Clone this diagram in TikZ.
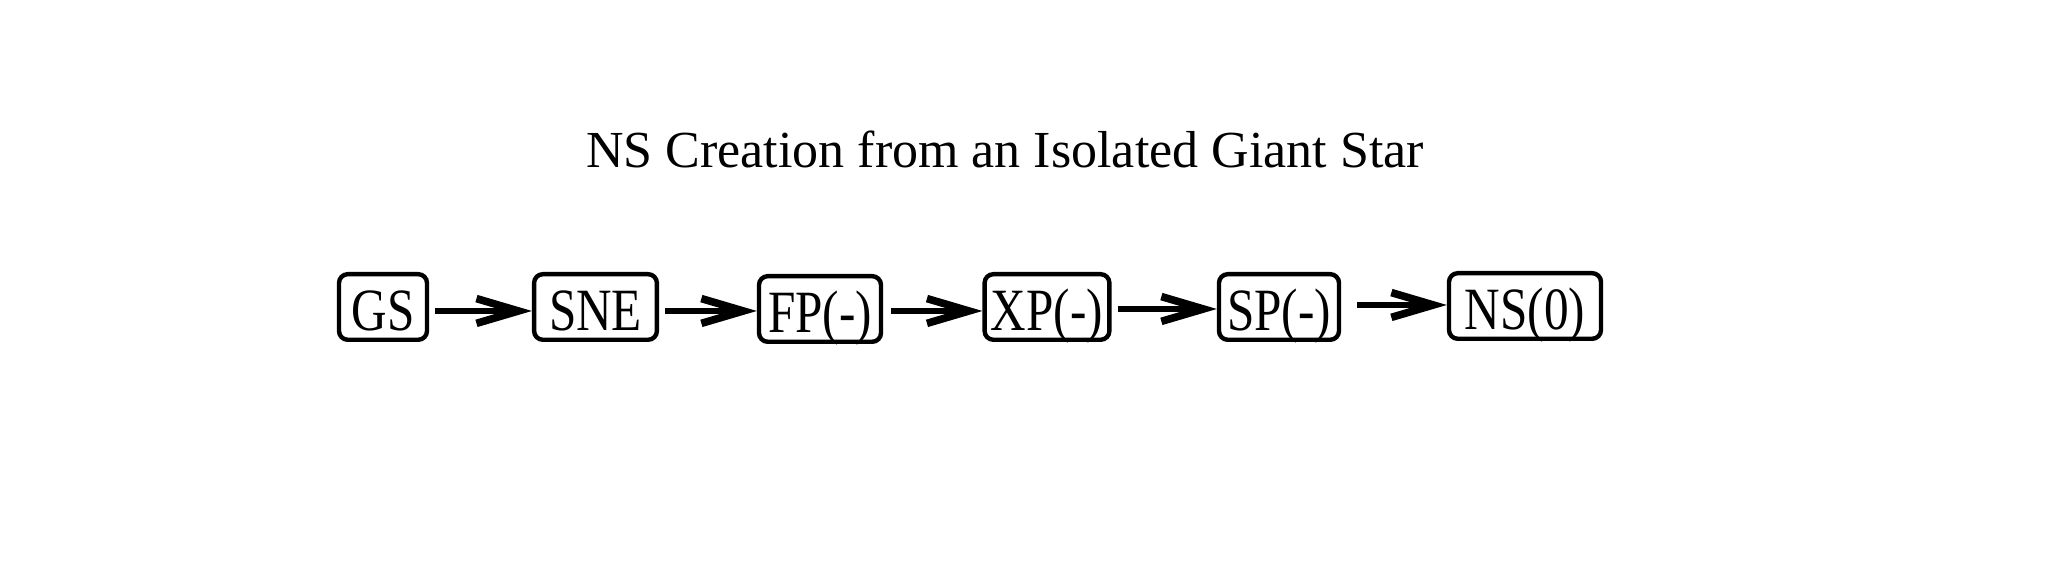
\documentclass[tikz,border=0pt]{standalone}
\usepackage{fontspec}
\setmainfont{Liberation Serif}
\newfontfamily\boxfont[FakeStretch=0.82]{Liberation Serif}
\usetikzlibrary{arrows.meta}
\begin{document}
\begin{tikzpicture}[x=0.25pt,y=0.25pt,
  stagebox/.style={draw=black, line width=1.1pt, rounded corners=2.2pt,
    inner sep=0pt, minimum height=16.4pt, text height=12pt, text depth=0pt,
    font=\boxfont\fontsize{15}{16}\selectfont},
  flowarrow/.style={line width=1.5pt,
    -{Straight Barb[length=10.5pt, width=6.2pt, line width=1.9pt, line join=miter]}}]
\useasboundingbox (0,0) rectangle (2048,585);
\node[font=\fontsize{13}{15}\selectfont, anchor=base] (title) at (1005,417)
  {NS Creation from an Isolated Giant Star};
\node[stagebox, minimum width=22pt] (gs)  at (383,278)  {GS};
\node[stagebox, minimum width=30.7pt] (sne) at (595.5,278) {SNE};
\node[stagebox, minimum width=30.5pt] (fp)  at (820,276)  {FP(-)};
\node[stagebox, minimum width=31.2pt] (xp)  at (1047,278) {XP(-)};
\node[stagebox, minimum width=30pt] (sp)  at (1279,278) {SP(-)};
\node[stagebox, minimum width=38pt] (ns)  at (1525,279) {NS(0)};
\draw[flowarrow] ([xshift=1.5pt, yshift=-1pt]gs.east) -- ([yshift=-1pt]sne.west);
\draw[flowarrow] ([xshift=1.5pt, yshift=-1pt]sne.east) -- ([yshift=-0.5pt]fp.west);
\draw[flowarrow] ([xshift=2pt, yshift=-0.5pt]fp.east) -- ([yshift=-1pt]xp.west);
\draw[flowarrow] ([xshift=1.5pt, yshift=-0.5pt]xp.east) -- ([yshift=-0.5pt]sp.west);
\draw[flowarrow] ([xshift=4pt, yshift=0.5pt]sp.east) -- ([yshift=0.25pt]ns.west);
\end{tikzpicture}
\end{document}
